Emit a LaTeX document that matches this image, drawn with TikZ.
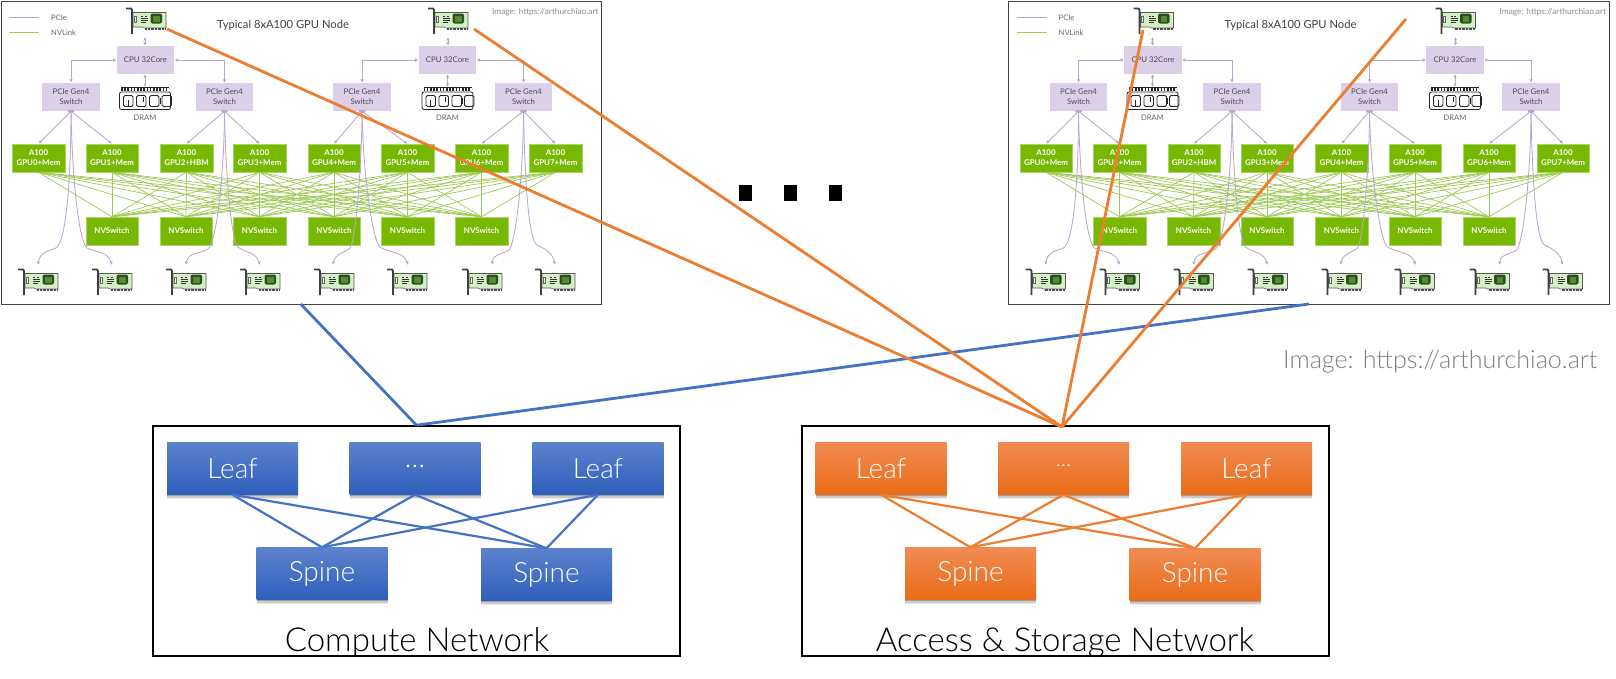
\documentclass[tikz,border=0pt]{standalone}
\usepackage{fontspec}
\usetikzlibrary{shadows,arrows.meta}
\setmainfont{Lato}
\newfontfamily\lightfont{Lato Light}
\definecolor{pcieline}{HTML}{B9A6D3}
\definecolor{pciefill}{HTML}{DCCFE8}
\definecolor{nvgreen}{HTML}{76B900}
\definecolor{nvedge}{HTML}{A8D468}
\definecolor{nvline}{HTML}{9CCB55}
\definecolor{frameline}{HTML}{444444}
\definecolor{netblue}{HTML}{4472C4}
\definecolor{netorange}{HTML}{ED7D31}
\definecolor{bluetop}{HTML}{5C82CC}
\definecolor{bluemid}{HTML}{3F6CC4}
\definecolor{bluebot}{HTML}{2F5FBC}
\definecolor{orangetop}{HTML}{F18B52}
\definecolor{orangemid}{HTML}{EF7A2A}
\definecolor{orangebot}{HTML}{E96C17}
\definecolor{nicboard}{HTML}{D5F0C4}
\definecolor{chipdark}{HTML}{2A4F22}
\definecolor{chipmid}{HTML}{4F8A35}
\definecolor{chipcore}{HTML}{8A7A30}
\tikzset{
  x=1pt,y=-1pt,
  panelbox/.style={draw=frameline,line width=.8pt,fill=white,inner sep=0pt,minimum width=600.5pt,minimum height=303.5pt},
  pciebox/.style={fill=pciefill,text=black!70,inner sep=0pt,minimum width=57.5pt,minimum height=28pt,align=center,font=\fontsize{7.8}{10.2}\selectfont},
  gpubox/.style={fill=nvgreen,draw=nvedge,line width=.5pt,text=white,inner sep=0pt,minimum width=52.5pt,minimum height=28pt,align=center,font=\fontsize{7.9}{10}\selectfont\bfseries},
  nvlink/.style={draw=nvline,line width=.7pt},
  pcielink/.style={draw=pcieline,line width=.85pt},
  arr/.style={pcielink,-{Latex[length=3.4pt,width=3.4pt]}},
  arrs/.style={pcielink,{Latex[length=3.4pt,width=3.4pt]}-{Latex[length=3.4pt,width=3.4pt]}},
  smalltext/.style={text=black!60,inner sep=0pt,font=\fontsize{7.6}{10}\selectfont},
  netframe/.style={draw=black,line width=1.6pt,inner sep=0pt,minimum width=527pt,minimum height=230pt},
  netlabel/.style={inner sep=0pt,text=black,font=\lightfont\fontsize{33}{36}\selectfont},
  swbase/.style={inner sep=0pt,text=white,minimum width=131pt,minimum height=52pt,font=\lightfont\fontsize{28}{30}\selectfont,
     drop shadow={shadow xshift=0pt,shadow yshift=-4.5pt,opacity=.07,fill=black},
     drop shadow={shadow xshift=0pt,shadow yshift=-3pt,opacity=.14,fill=black},
     drop shadow={shadow xshift=0pt,shadow yshift=-1.5pt,opacity=.22,fill=black}},
  bluebox/.style={swbase,top color=bluetop,middle color=bluemid,bottom color=bluebot},
  orangebox/.style={swbase,top color=orangetop,middle color=orangemid,bottom color=orangebot},
  bluelink/.style={draw=netblue,line width=2.2pt},
  orangelink/.style={draw=netorange,line width=2.2pt},
  bluelong/.style={draw=netblue,line width=2.8pt},
  orangelong/.style={draw=netorange,line width=2.8pt},
}
% NIC card icon, origin at its top left corner
\newcommand{\nicicon}[2]{%
  \begin{scope}[shift={(#1,#2)}]
    \filldraw[fill=nicboard,draw=black!65,line width=.6pt] (7,5.5)--(40,5.5)--(40,21)--(18,21)--(16,20)--(7,20)--cycle;
    \draw[black!70,line width=1.5pt,dash pattern=on .8pt off .6pt] (19,22)--(39.5,22);
    \draw[black!75,line width=1.9pt] (0,1.5)--(5,1.5)--(6,3)--(6,27);
    \filldraw[fill=white,draw=black!60,line width=.4pt] (8,9) rectangle (10,15.5);
    \fill[chipdark,rounded corners=2pt] (24.5,6.5) rectangle (36,16.5);
    \fill[chipmid] (27,8.5) rectangle (33.5,14.5);
    \fill[chipcore] (29,10.5) rectangle (31.5,12.5);
    \draw[black!80,line width=.8pt] (15,9)--(17,9) (18.5,9)--(20.5,9) (15,11.2)--(22,11.2) (15,13.4)--(22,13.4) (15,15.6)--(20,15.6);
  \end{scope}}
% DRAM icon, origin at its top left corner
\newcommand{\dramicon}[2]{%
  \begin{scope}[shift={(#1,#2)},line width=.8pt]
    \draw[black!85,line width=3pt,dash pattern=on 1.6pt off 1.6pt] (2,2.5)--(50,2.5);
    \draw[black!85,line width=.9pt] (2,.8)--(50,.8);
    \filldraw[fill=white,draw=black!85,rounded corners=2pt] (.5,5) rectangle (51.5,22.5);
    \foreach \c in {4.5,17.5,30.5,43}{
      \draw[black!85,rounded corners=1.5pt] (\c,8.5) rectangle ++(9.5,11);
    }
    \draw[black!85] (9,13)--(9,19.5) (41,11)--(41,17) (24,10)--(24,15);
  \end{scope}}
% One GPU node panel
\newcommand{\gpupanel}[2]{%
  \begin{scope}[shift={(#2,0)}]
    \node[panelbox,anchor=north west] (#1panel) at (.5,.5) {};
    \draw[pcielink] (9,17)--(39,17);
    \draw[nvline,line width=.8pt] (9,32)--(39,32);
    \node[smalltext,anchor=west] (#1lgp) at (51,18) {PCIe};
    \node[smalltext,anchor=west] (#1lgn) at (51,32.5) {NVLink};
    \node[inner sep=0pt,anchor=west,text=black!75,font=\fontsize{11.2}{13}\selectfont] (#1title) at (217,25) {Typical 8xA100 GPU Node};
    \node[inner sep=0pt,anchor=west,text=black!45,font=\fontsize{8.3}{10}\selectfont] (#1img) at (492,12) {Image: https://arthurchiao.art};
    \node[pciebox] (#1cpu1) at (145.5,60) {CPU 32Core};
    \node[pciebox] (#1cpu2) at (447.5,60) {CPU 32Core};
    \node[pciebox] (#1sw1) at (71,97) {PCIe Gen4\\Switch};
    \node[pciebox] (#1sw2) at (224.5,97) {PCIe Gen4\\Switch};
    \node[pciebox] (#1sw3) at (362,97) {PCIe Gen4\\Switch};
    \node[pciebox] (#1sw4) at (523.5,97) {PCIe Gen4\\Switch};
    \node[smalltext] (#1dl1) at (145,117.5) {DRAM};
    \node[smalltext] (#1dl2) at (447.5,117.5) {DRAM};
    \dramicon{119}{87}\dramicon{421.5}{87}
    \coordinate (#1dr1) at (145,87);
    \coordinate (#1dr2) at (447.5,87);
    \nicicon{126}{7}\nicicon{428}{7}
    \coordinate (#1nt1) at (145,37);
    \coordinate (#1nt2) at (448,37);
    \node[gpubox] (#1gpu0) at (38.5,158) {A100\\GPU0+Mem};
    \node[gpubox] (#1gpu1) at (112,158) {A100\\GPU1+Mem};
    \node[gpubox] (#1gpu2) at (186.5,158) {A100\\GPU2+HBM};
    \node[gpubox] (#1gpu3) at (259.5,158) {A100\\GPU3+Mem};
    \node[gpubox] (#1gpu4) at (334,158) {A100\\GPU4+Mem};
    \node[gpubox] (#1gpu5) at (407.5,158) {A100\\GPU5+Mem};
    \node[gpubox] (#1gpu6) at (481.5,158) {A100\\GPU6+Mem};
    \node[gpubox] (#1gpu7) at (555.5,158) {A100\\GPU7+Mem};
    \node[gpubox] (#1nv0) at (112,231) {NVSwitch};
    \node[gpubox] (#1nv1) at (186,231) {NVSwitch};
    \node[gpubox] (#1nv2) at (259.5,231) {NVSwitch};
    \node[gpubox] (#1nv3) at (334,231) {NVSwitch};
    \node[gpubox] (#1nv4) at (407.5,231) {NVSwitch};
    \node[gpubox] (#1nv5) at (481.5,231) {NVSwitch};
    \foreach \g in {0,...,7}{\foreach \n in {0,...,5}{
      \draw[nvlink] (#1gpu\g.south) -- (#1nv\n.north);
    }}
    \foreach \i/\xx in {0/18,1/92,2/166,3/240,4/314,5/387,6/462,7/535}{\nicicon{\xx}{268}}
    \coordinate (#1nb0) at (38,265);
    \coordinate (#1nb1) at (112,265);
    \coordinate (#1nb2) at (186,265);
    \coordinate (#1nb3) at (260,265);
    \coordinate (#1nb4) at (333,265);
    \coordinate (#1nb5) at (408,265);
    \coordinate (#1nb6) at (492,265);
    \coordinate (#1nb7) at (555,265);
    \draw[arrs] (#1nt1) -- (#1cpu1.north -| #1nt1);
    \draw[arrs] (#1nt2) -- (#1cpu2.north -| #1nt2);
    \draw[arrs] (#1cpu1.south -| #1dr1) -- (#1dr1);
    \draw[arrs] (#1cpu2.south -| #1dr2) -- (#1dr2);
    \draw[arrs] (#1cpu1.west) -| (#1sw1.north);
    \draw[arrs] (#1cpu1.east) -| (#1sw2.north);
    \draw[arrs] (#1cpu2.west) -| (#1sw3.north);
    \draw[arrs] (#1cpu2.east) -| (#1sw4.north);
    \foreach \s/\a/\b in {1/0/1,2/2/3,3/4/5,4/6/7}{
      \fill[pcieline] (#1sw\s.south) ellipse [x radius=3.5pt,y radius=1.6pt];
      \draw[arr] (#1sw\s.south) -- (#1gpu\a.north);
      \draw[arr] (#1sw\s.south) -- (#1gpu\b.north);
    }
    \draw[arr] (#1sw1.south) .. controls +(0,50) and (68,240) .. (56,248) .. controls (48,251) and (40,252) .. (#1nb0);
    \draw[arr] (#1sw1.south) .. controls +(1,60) and (78,240) .. (87,248) .. controls (96,252) and (108,252) .. (#1nb1);
    \draw[arr] (#1sw2.south) .. controls +(0,50) and (218,240) .. (208,249) .. controls (200,254) and (188,252) .. (#1nb2);
    \draw[arr] (#1sw2.south) .. controls +(1,60) and (231,240) .. (238,247) .. controls (246,253) and (256,252) .. (#1nb3);
    \draw[arr] (#1sw3.south) .. controls +(0,50) and (356,240) .. (350,248) .. controls (344,253) and (335,254) .. (#1nb4);
    \draw[arr] (#1sw3.south) .. controls +(1,60) and (372,240) .. (380,247) .. controls (390,253) and (404,252) .. (#1nb5);
    \draw[arr] (#1sw4.south) .. controls +(0,50) and (517,245) .. (508,251) .. controls (502,254) and (493,254) .. (#1nb6);
    \draw[arr] (#1sw4.south) .. controls +(1,60) and (528,240) .. (537,245) .. controls (546,249) and (553,254) .. (#1nb7);
  \end{scope}}
\begin{document}
\begin{tikzpicture}
  \useasboundingbox[fill=white] (0,0) rectangle (1616,678);
  \gpupanel{a}{0}
  \gpupanel{b}{1007.5}

  % the three dots between the panels
  \foreach \i/\xx in {1/745.5,2/790.3,3/835}{
    \node[fill=black,inner sep=0pt,minimum width=13pt,minimum height=16pt] (gap\i) at (\xx,193) {};
  }
  \node[inner sep=0pt,anchor=base west,text=black!50,font=\lightfont\fontsize{25.1}{28}\selectfont] (credit) at (1283,368) {Image: https://arthurchiao.art};

  % compute network
  \node[netframe] (comp) at (416.5,541) {};
  \node[bluebox] (bl1) at (232.5,468.5) {Leaf};
  \node[bluebox] (bl2) at (415,468.5) {\raisebox{5pt}{…}};
  \node[bluebox] (bl3) at (598,468.5) {Leaf};
  \node[bluebox] (bs1) at (322,573.5) {Spine};
  \node[bluebox] (bs2) at (546.5,574.5) {Spine};
  \foreach \l in {bl1,bl2,bl3}{\foreach \s in {bs1,bs2}{
    \draw[bluelink] (\l.south) -- (\s.north);
  }}
  \node[netlabel,anchor=base] (compl) at (417,651) {Compute Network};

  % access and storage network
  \node[netframe] (acc) at (1065.5,541) {};
  \node[orangebox] (ol1) at (881,468.5) {Leaf};
  \node[orangebox] (ol2) at (1063.5,468.5) {\raisebox{5pt}{\fontsize{21}{24}\selectfont …}};
  \node[orangebox] (ol3) at (1246.5,468.5) {Leaf};
  \node[orangebox] (os1) at (970.5,573.5) {Spine};
  \node[orangebox] (os2) at (1195,574.5) {Spine};
  \foreach \l in {ol1,ol2,ol3}{\foreach \s in {os1,os2}{
    \draw[orangelink] (\l.south) -- (\s.north);
  }}
  \node[netlabel,anchor=base] (accl) at (1065,651) {Access \& Storage Network};

  % long links
  \coordinate (apanelb) at (300.7,304);
  \coordinate (bpanelb) at (1309,304);
  \coordinate (acctop) at (1062,427);
  \coordinate (o1) at (167,29);
  \coordinate (o2) at (474,29);
  \coordinate (o3) at (1143,30);
  \coordinate (o4) at (1406,19);
  \draw[bluelong] (apanelb) -- (comp.north);
  \draw[bluelong] (bpanelb) -- (comp.north);
  \draw[orangelong] (o1) -- (acctop);
  \draw[orangelong] (o2) -- (acctop);
  \draw[orangelong] (o3) -- (acctop);
  \draw[orangelong] (o4) -- (acctop);
\end{tikzpicture}
\end{document}
